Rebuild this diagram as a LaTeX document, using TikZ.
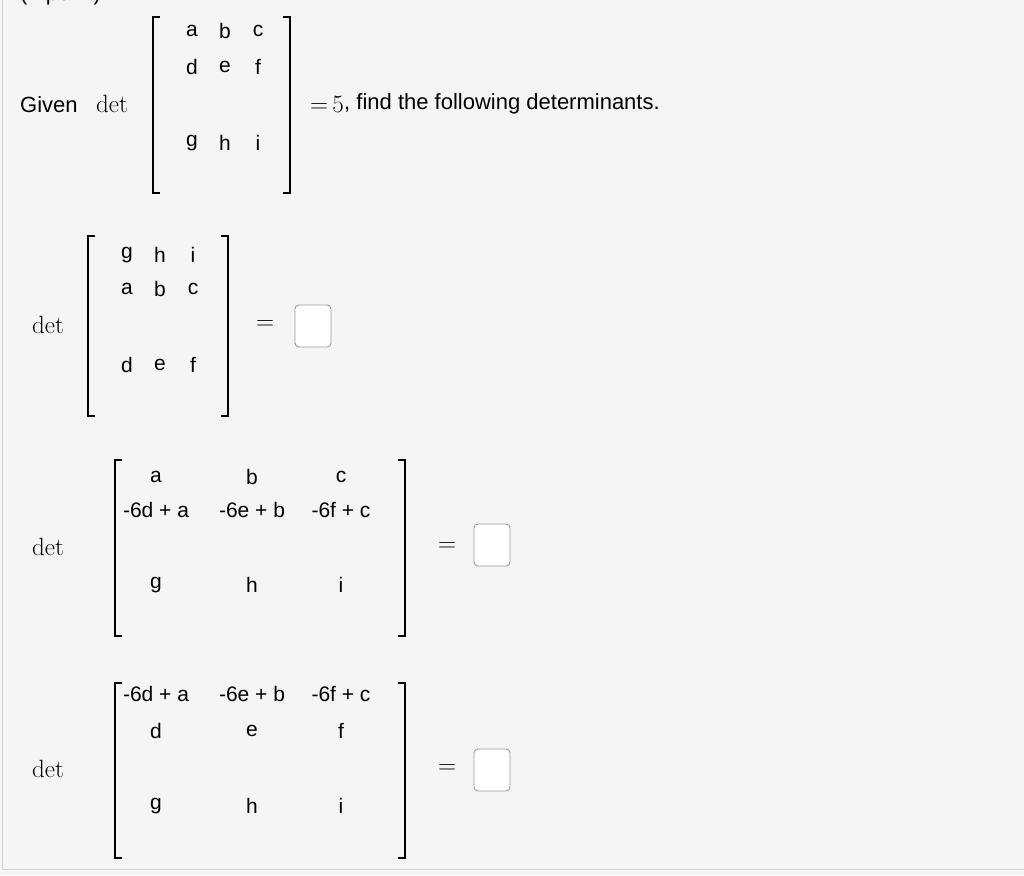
\documentclass[tikz,border=0pt]{standalone}
\usepackage{fontspec}
\setmainfont{Liberation Sans}
\newfontfamily\mathserif{Latin Modern Roman}
\usetikzlibrary{positioning}
\definecolor{pagegray}{rgb}{0.96,0.96,0.96}
\definecolor{framegray}{rgb}{0.82,0.82,0.82}
\tikzset{
  entry/.style={inner sep=0pt, font=\fontsize{21}{23}\selectfont},
  txt/.style={inner sep=0pt, anchor=west, font=\fontsize{22}{24}\selectfont},
  dettxt/.style={inner sep=0pt, anchor=west, font=\mathserif\fontsize{25}{27}\selectfont},
  brack/.style={line width=2.2pt},
  answerbox/.style={draw=gray!80, fill=white, rounded corners=4pt, line width=0.9pt,
    minimum width=36pt, minimum height=42pt, inner sep=0pt}
}
\begin{document}
\begin{tikzpicture}[x=1pt, y=-1pt]
\useasboundingbox (0,0) rectangle (1024,875);
\fill[pagegray] (0,0) rectangle (1024,875);
\draw[framegray,thin] (2.5,0)--(2.5,869.5)--(1024,869.5);
\node[txt] (pts) at (20,-5) {(1 point)};

% given matrix
\node[txt] (given) at (20,105) {Given};
\node[dettxt] (det0) at (96,104) {det};
\draw[brack] (160,17)--(153,17)--(153,193)--(160,193);
\draw[brack] (283,17)--(290,17)--(290,193)--(283,193);
\node[entry] (a0) at (192,31) {a}; \node[entry] (b0) at (225,31) {b}; \node[entry] (c0) at (258,31) {c};
\node[entry] (d0) at (192,67) {d}; \node[entry] (e0) at (225,67) {e}; \node[entry] (f0) at (258,67) {f};
\node[entry] (g0) at (192,143) {g}; \node[entry] (h0) at (225,143) {h}; \node[entry] (i0) at (258,143) {i};
\node[dettxt] (eq0) at (310,104) {=\,5};
\node[txt, right=0pt of eq0] (find) {, find the following determinants.};

% first
\node[dettxt] (det1) at (32,325) {det};
\draw[brack] (95,236)--(88,236)--(88,416)--(95,416);
\draw[brack] (221,236)--(228,236)--(228,416)--(221,416);
\node[entry] (g1) at (127,255) {g}; \node[entry] (h1) at (160,255) {h}; \node[entry] (i1) at (193,255) {i};
\node[entry] (a1) at (127,289) {a}; \node[entry] (b1) at (160,289) {b}; \node[entry] (c1) at (193,289) {c};
\node[entry] (d1) at (127,365) {d}; \node[entry] (e1) at (160,365) {e}; \node[entry] (f1) at (193,365) {f};
\node[dettxt] (eq1) at (256,325) {=};
\node[answerbox] (ans1) at (313,326) {};

% second
\node[dettxt] (det2) at (32,547) {det};
\draw[brack] (122,460)--(115,460)--(115,636)--(122,636);
\draw[brack] (398,460)--(405,460)--(405,636)--(398,636);
\node[entry] (a2) at (156,477) {a}; \node[entry] (b2) at (252,477) {b}; \node[entry] (c2) at (341,477) {c};
\node[entry] (d2) at (156,510) {-6d + a}; \node[entry] (e2) at (252,510) {-6e + b}; \node[entry] (f2) at (341,510) {-6f + c};
\node[entry] (g2) at (156,585) {g}; \node[entry] (h2) at (252,585) {h}; \node[entry] (i2) at (341,585) {i};
\node[dettxt] (eq2) at (438,547) {=};
\node[answerbox] (ans2) at (492,545) {};

% third
\node[dettxt] (det3) at (32,769) {det};
\draw[brack] (122,683)--(115,683)--(115,858)--(122,858);
\draw[brack] (398,683)--(405,683)--(405,858)--(398,858);
\node[entry] (a3) at (156,694) {-6d + a}; \node[entry] (b3) at (252,694) {-6e + b}; \node[entry] (c3) at (341,694) {-6f + c};
\node[entry] (d3) at (156,731) {d}; \node[entry] (e3) at (252,731) {e}; \node[entry] (f3) at (341,731) {f};
\node[entry] (g3) at (156,806) {g}; \node[entry] (h3) at (252,806) {h}; \node[entry] (i3) at (341,806) {i};
\node[dettxt] (eq3) at (438,769) {=};
\node[answerbox] (ans3) at (492,770) {};
\end{tikzpicture}
\end{document}
